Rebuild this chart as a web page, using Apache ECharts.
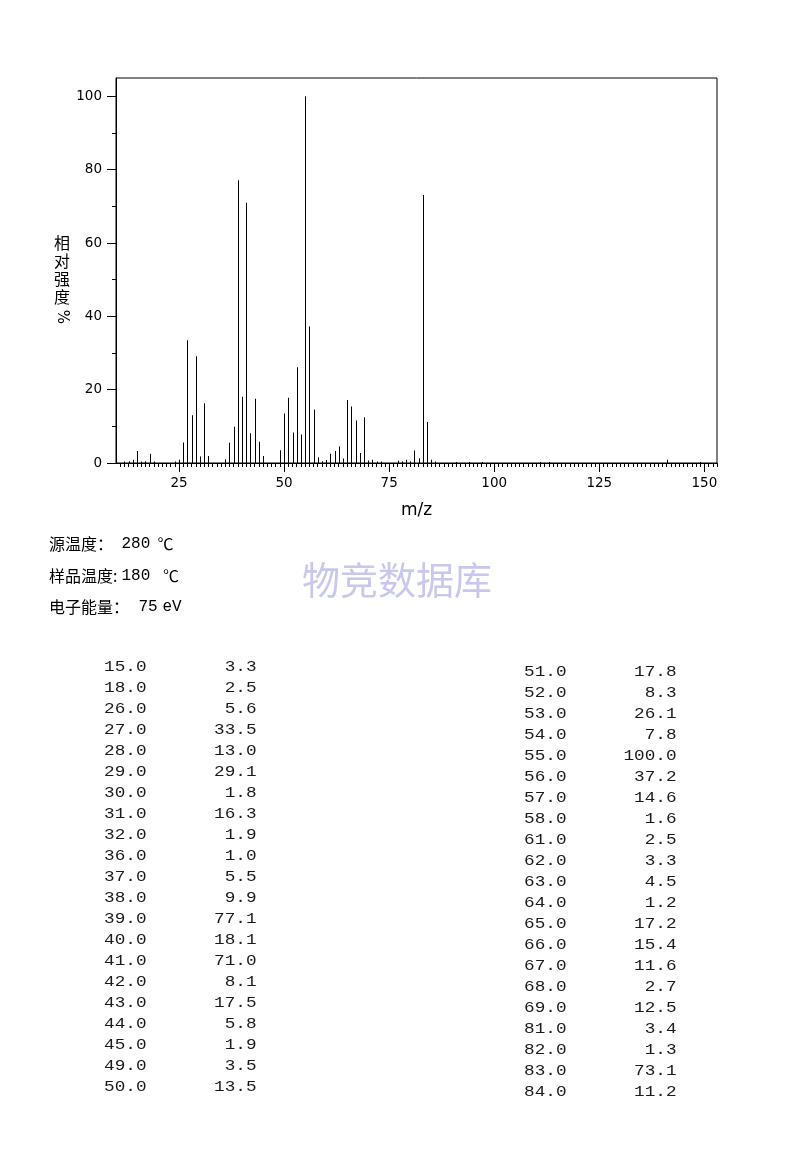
<!DOCTYPE html>
<html>
<head>
<meta charset="utf-8">
<script src="https://cdn.jsdelivr.net/npm/echarts@6/dist/echarts.min.js"></script>
<style>
html,body{margin:0;padding:0;background:#fff;}
#chart{width:794px;height:1162px;}
</style>
</head>
<body>
<div id="chart"></div>
<script>
// Listed peaks (m/z, relative intensity %)
const listedMz = [15,18,26,27,28,29,30,31,32,36,37,38,39,40,41,42,43,44,45,49,50,
                  51,52,53,54,55,56,57,58,61,62,63,64,65,66,67,68,69,81,82,83,84];
const listedInt = [3.3,2.5,5.6,33.5,13.0,29.1,1.8,16.3,1.9,1.0,5.5,9.9,77.1,18.1,71.0,8.1,17.5,5.8,1.9,3.5,13.5,
                   17.8,8.3,26.1,7.8,100.0,37.2,14.6,1.6,2.5,3.3,4.5,1.2,17.2,15.4,11.6,2.7,12.5,3.4,1.3,73.1,11.2];
// Small unlisted peaks
const smallMz  = [12,13,14,16,17,19,24,25,59,60,70,71,72,73,77,78,79,80,85,86,91,94,97,111,113,141,149];
const smallInt = [0.4,0.5,0.9,0.4,0.5,0.4,0.4,0.9,0.5,0.8,0.7,0.9,0.4,0.4,0.6,0.5,0.9,0.5,0.9,0.4,0.3,0.3,0.3,0.3,0.3,0.9,0.3];
// Axis ticks
const xMajor = [25,50,75,100,125,150];
const yMajor = [0,20,40,60,80,100];
const yMinor = [10,30,50,70,90];
// Instrument info
const infoLabels = ['源温度：','样品温度:','电子能量：'];
const infoNumbers = ['280','180','75'];
const infoUnits = ['℃','℃','eV'];

const xMinor = [];
for (let v = 11; v <= 153; v++) if (xMajor.indexOf(v) < 0) xMinor.push(v);

const peaks = [];
listedMz.forEach((m,i)=>peaks.push([m, listedInt[i]]));
smallMz.forEach((m,i)=>peaks.push([m, smallInt[i]]));

const graphics = [];
// axis titles
graphics.push({type:'text', x:416.5, y:511, style:{text:'m/z', font:'17px "DejaVu Sans"', fill:'#000', align:'center', verticalAlign:'middle'}});
['相','对','强','度'].forEach((c,i)=>{
  graphics.push({type:'text', x:62, y:243 + i*18, style:{text:c, font:'16px "Noto Sans CJK SC"', fill:'#000', align:'center', verticalAlign:'middle'}});
});
graphics.push({type:'text', x:62, y:317, rotation:-Math.PI/2, style:{text:'%', font:'15px "DejaVu Sans"', fill:'#000', align:'center', verticalAlign:'middle'}});
// info lines
const cjkFont = '16px "Noto Sans CJK SC"';
const monoFont = '16px "Liberation Mono"';
const numX = [121.5, 121.5, 138.5];
const unitX = [157.5, 163, 162.5];
infoLabels.forEach((t,i)=>{
  const y = 544 + i*31.6;
  graphics.push({type:'text', x:49, y:y, style:{text:t, font:cjkFont, fill:'#000', align:'left', verticalAlign:'middle'}});
  graphics.push({type:'text', x:numX[i], y:y, style:{text:infoNumbers[i], font:monoFont, fill:'#000', align:'left', verticalAlign:'middle'}});
  graphics.push({type:'text', x:unitX[i], y:y, style:{text:infoUnits[i], font: infoUnits[i] === '℃' ? cjkFont : monoFont, fill:'#000', align:'left', verticalAlign:'middle'}});
});
// watermark
graphics.push({type:'text', x:397, y:580, style:{text:'物竞数据库', font:'38px "Noto Sans CJK SC"', fill:'rgb(200,200,236)', align:'center', verticalAlign:'middle'}});
// peak table
const half = 21;
const tFont = '15px "Liberation Mono"';
const sx = 1.18;
listedMz.forEach((m,i)=>{
  const col = i < half ? 0 : 1;
  const row = col === 0 ? i : i - half;
  const y = (col === 0 ? 667.5 : 672) + row*21;
  const xm = col === 0 ? 146.5 : 566.5;
  const xv = col === 0 ? 256.5 : 676.5;
  graphics.push({type:'text', x:xm, y:y, scaleX:sx, style:{text:m.toFixed(1), font:tFont, fill:'#1a1a1a', align:'right', verticalAlign:'middle'}});
  graphics.push({type:'text', x:xv, y:y, scaleX:sx, style:{text:listedInt[i].toFixed(1), font:tFont, fill:'#1a1a1a', align:'right', verticalAlign:'middle'}});
});

const axisFont = {fontFamily:'DejaVu Sans', fontSize:13.5, color:'#000'};
const chart = echarts.init(document.getElementById('chart'), null, {renderer:'canvas'});
chart.setOption({
  animation:false,
  backgroundColor:'#fff',
  grid:{left:116, top:78, width:601, height:385, show:true, borderColor:'#000', borderWidth:1, backgroundColor:'transparent'},
  xAxis:[
    {type:'value', min:10, max:153, position:'bottom',
     axisLine:{show:true, onZero:false, lineStyle:{color:'#000', width:1}},
     splitLine:{show:false},
     axisTick:{show:true, length:9, customValues:xMajor, lineStyle:{color:'#000'}},
     axisLabel:Object.assign({customValues:xMajor, margin:13}, axisFont)},
    {type:'value', min:10, max:153, position:'bottom',
     axisLine:{show:false}, splitLine:{show:false},
     axisTick:{show:true, length:4, customValues:xMinor, lineStyle:{color:'#000'}},
     axisLabel:{show:false}}
  ],
  yAxis:[
    {type:'value', min:0, max:105, position:'left',
     axisLine:{show:true, onZero:false, lineStyle:{color:'#000', width:1}},
     splitLine:{show:false},
     axisTick:{show:true, length:9, customValues:yMajor, lineStyle:{color:'#000'}},
     axisLabel:Object.assign({customValues:yMajor, margin:14}, axisFont)},
    {type:'value', min:0, max:105, position:'left',
     axisLine:{show:false}, splitLine:{show:false},
     axisTick:{show:true, length:4, customValues:yMinor, lineStyle:{color:'#000'}},
     axisLabel:{show:false}}
  ],
  series:[{
    type:'custom', xAxisIndex:0, yAxisIndex:0, data:peaks,
    renderItem:function(params, api){
      const top = api.coord([api.value(0), api.value(1)]);
      const base = api.coord([api.value(0), 0]);
      const x = Math.round(top[0]);
      return {type:'rect', shape:{x:x, y:top[1], width:1, height:base[1]-top[1]}, style:{fill:'#000'}};
    }
  }],
  graphic:graphics
});
</script>
</body>
</html>
